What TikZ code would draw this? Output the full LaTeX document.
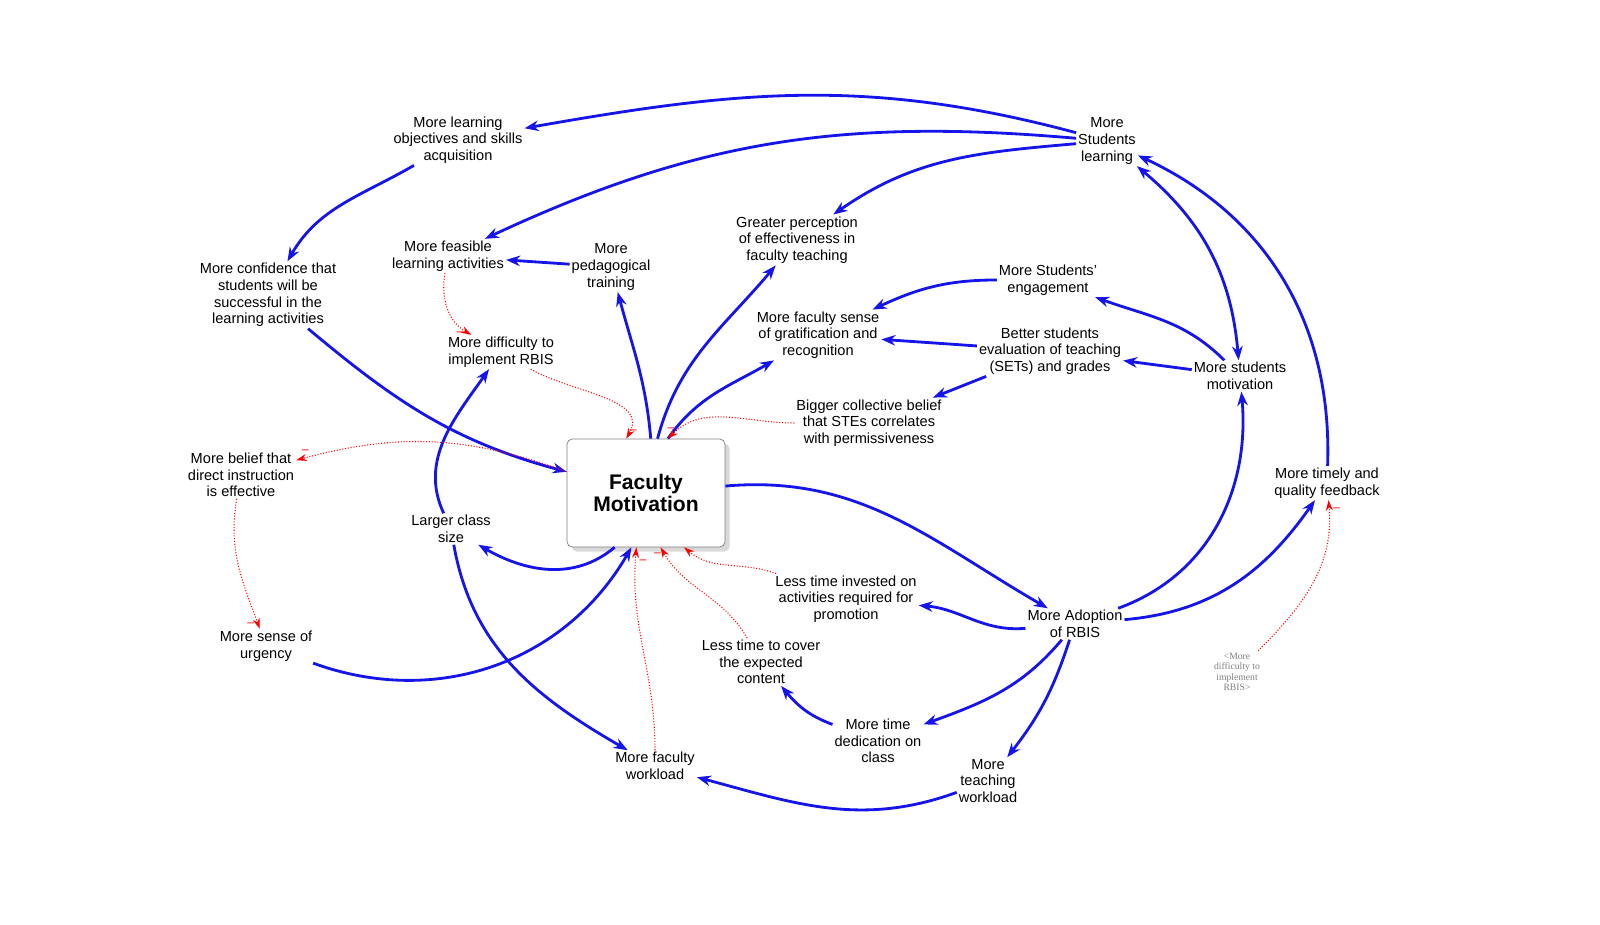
\documentclass[tikz,border=0pt]{standalone}
\usepackage{fontspec}
\setmainfont{Liberation Sans}
\newfontfamily\grayfont{Liberation Serif}
\usetikzlibrary{arrows.meta,shadows}
\definecolor{linkblue}{RGB}{20,20,235}
\begin{document}
\begin{tikzpicture}[%
        x=0.02cm, y=0.02cm,
        var/.style={align=center, inner sep=1pt, font=\fontsize{8.3}{9.4}\selectfont},
        pos link/.style={draw=linkblue, line width=1.6pt, -{Stealth[length=8pt,width=6pt]}},
        neg link/.style={draw=red, densely dotted, line width=0.6pt, -{Stealth[length=6pt,width=4pt]}},
        minus/.style={red, inner sep=0pt, font=\fontsize{7}{7}\selectfont}
    ]
    \useasboundingbox (0,0) rectangle (1600,925);
    % variables
    \node[var] (learn) at (458,785) {More learning\\objectives and skills\\acquisition};
    \node[var] (stud) at (1107,784) {More\\Students\\learning};
    \node[var] (conf) at (268,630) {More confidence that\\students will be\\successful in the\\learning activities};
    \node[var] (feas) at (448,669) {More feasible\\learning activities};
    \node[var] (ped) at (611,658) {More\\pedagogical\\training};
    \node[var] (perc) at (797,685) {Greater perception\\of effectiveness in\\faculty teaching};
    \node[var] (eng) at (1048,645) {More Students'\\engagement};
    \node[var] (grat) at (818,590) {More faculty sense\\of gratification and\\recognition};
    \node[var] (diff) at (501,573) {More difficulty to\\implement RBIS};
    \node[var] (sets) at (1050,574) {Better students\\evaluation of teaching\\(SETs) and grades};
    \node[var] (smot) at (1240,549) {More students\\motivation};
    \node[var] (belief) at (869,502) {Bigger collective belief\\that STEs correlates\\with permissiveness};
    \node[var] (direct) at (241,450) {More belief that\\direct instruction\\is effective};
    \node[draw=gray, rounded corners=3pt, fill=white, drop shadow={opacity=0.3},
          minimum width=3.16cm, minimum height=2.16cm, align=center,
          font=\fontsize{12}{13}\bfseries] (fm) at (646,432) {Faculty\\Motivation};
    \node[var] (feed) at (1327,442) {More timely and\\quality feedback};
    \node[var] (large) at (451,396) {Larger class\\size};
    \node[var] (lesst) at (846,326) {Less time invested on\\activities required for\\promotion};
    \node[var] (urg) at (266,279) {More sense of\\urgency};
    \node[var] (rbis) at (1075,301) {More Adoption\\of RBIS};
    \node[var] (cover) at (761,263) {Less time to cover\\the expected\\content};
    \node[align=center, text=gray, inner sep=1pt,
          font=\grayfont\fontsize{5.5}{6}\selectfont] (gray) at (1237,253) {<More\\difficulty to\\implement\\RBIS>};
    \node[var] (dedic) at (878,184) {More time\\dedication on\\class};
    \node[var] (fw) at (655,159) {More faculty\\workload};
    \node[var] (tw) at (988,144) {More\\teaching\\workload};
    % positive links
    \draw[pos link] (stud) to[out=165, in=10] (learn);
    \draw[pos link] (stud) to[out=175, in=25] (feas);
    \draw[pos link] (stud) to[out=185, in=35] (perc);
    \draw[pos link] (learn) to[out=210, in=60] (conf);
    \draw[pos link] (ped) -- (feas);
    \draw[pos link] (fm.85) to[out=95, in=-75] (ped);
    \draw[pos link] (fm.78) to[out=75, in=-130] (perc);
    \draw[pos link] (fm.68) to[out=55, in=-150] (grat);
    \draw[pos link] (eng) to[out=180, in=25] (grat);
    \draw[pos link] (sets) -- (grat);
    \draw[pos link] (sets) -- (belief);
    \draw[pos link] (smot) to[out=135, in=-20] (eng);
    \draw[pos link] (smot) -- (sets);
    \draw[pos link, {Stealth[length=8pt,width=6pt]}-{Stealth[length=8pt,width=6pt]}] (stud) to[out=-40, in=95] (smot);
    \draw[pos link] (feed) to[out=88, in=-25] (stud);
    \draw[pos link] (conf) to[out=-40, in=165] (fm);
    \draw[pos link] (large) to[out=115, in=-125] (diff);
    \draw[pos link] (fm.-120) to[out=-140, in=-30] (large);
    \draw[pos link] (urg) to[out=-20, in=-120] (fm.-105);
    \draw[pos link] (large) to[out=-80, in=150] (fw);
    \draw[pos link] (fm) to[out=5, in=150] (rbis);
    \draw[pos link] (rbis) to[out=20, in=-85] (smot);
    \draw[pos link] (rbis) to[out=5, in=-125] (feed);
    \draw[pos link] (rbis) to[out=185, in=-5] (lesst);
    \draw[pos link] (rbis) to[out=-130, in=20] (dedic);
    \draw[pos link] (rbis) to[bend left=10] (tw);
    \draw[pos link] (dedic) to[out=160, in=-50] (cover);
    \draw[pos link] (tw) to[out=200, in=-15] (fw);
    % negative links
    \draw[neg link] (feas) to[out=-100, in=150] node[minus, pos=0.97, left=3pt] {--} (diff);
    \draw[neg link] (diff) to[out=-30, in=60] node[minus, pos=0.98, above right=1pt] {--} (fm.110);
    \draw[neg link] (belief) to[out=180, in=45] node[minus, pos=0.97, above=2pt] {--} (fm.68);
    \draw[neg link] (fm.165) to[out=160, in=15] node[minus, pos=0.97, above=2pt] {--} (direct);
    \draw[neg link] (direct) to[out=-100, in=110] node[minus, pos=0.97, left=2pt] {--} (urg);
    \draw[neg link] (fw) to[out=90, in=-95] node[minus, pos=0.94, right=2pt] {--} (fm.-100);
    \draw[neg link] (cover) to[out=120, in=-60] node[minus, pos=0.94, left=2pt] {--} (fm.-75);
    \draw[neg link] (lesst) to[out=160, in=-40] (fm.-55);
    \draw[neg link] (gray) to[out=45, in=-85] node[minus, pos=0.95, right=2pt] {--} (feed);
\end{tikzpicture}
\end{document}
